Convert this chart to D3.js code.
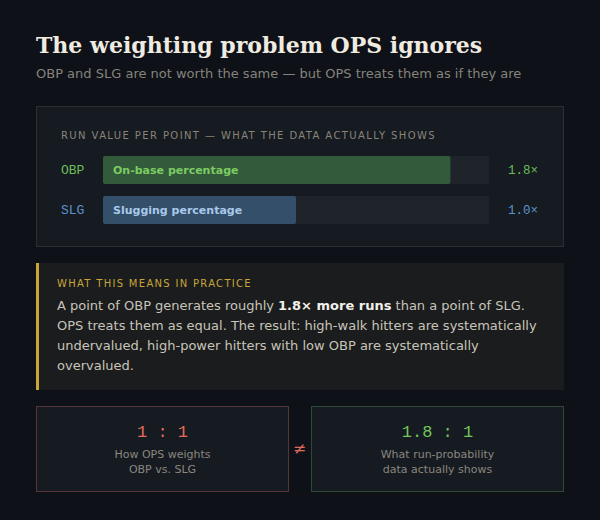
<!DOCTYPE html>
<html><head><meta charset="utf-8">
<script src="https://cdn.jsdelivr.net/npm/d3@7"></script>
<style>
html,body{margin:0;padding:0;background:#0e1117;}
svg{display:block;}
</style></head>
<body>
<script>
const title = "The weighting problem OPS ignores";
const subtitle = "OBP and SLG are not worth the same \u2014 but OPS treats them as if they are";
const panelLabel = "RUN VALUE PER POINT \u2014 WHAT THE DATA ACTUALLY SHOWS";
const metrics = ["OBP", "SLG"];
const metricNames = ["On-base percentage", "Slugging percentage"];
const runValues = [1.8, 1.0];
const valueLabels = ["1.8\u00d7", "1.0\u00d7"];
const scaleMax = 2.0;
const noteTitle = "WHAT THIS MEANS IN PRACTICE";
const noteLines = [
  [["A point of OBP generates roughly ", false], ["1.8\u00d7 more runs", true], [" than a point of SLG.", false]],
  [["OPS treats them as equal. The result: high-walk hitters are systematically", false]],
  [["undervalued, high-power hitters with low OBP are systematically", false]],
  [["overvalued.", false]]
];
const ratios = ["1 : 1", "1.8 : 1"];
const ratioCaptions = [["How OPS weights", "OBP vs. SLG"], ["What run-probability", "data actually shows"]];

const W = 600, H = 520;
const svg = d3.select("body").append("svg").attr("width", W).attr("height", H);
svg.append("rect").attr("width", W).attr("height", H).attr("fill", "#0e1117");

const sans = "'DejaVu Sans', sans-serif";
const mono = "'Liberation Mono', 'Courier New', monospace";

svg.append("text").attr("x", 36).attr("y", 53).text(title)
  .attr("font-family", "'DejaVu Serif', serif").attr("font-weight", "bold")
  .attr("font-size", 22).attr("fill", "#f0ebe0");
svg.append("text").attr("x", 36).attr("y", 78).text(subtitle)
  .attr("font-family", sans).attr("font-size", 13).attr("fill", "#85837c");

// Panel 1
svg.append("rect").attr("x", 36.5).attr("y", 106.5).attr("width", 527).attr("height", 140)
  .attr("fill", "#161b22").attr("stroke", "#2c3035");
svg.append("text").attr("x", 61).attr("y", 139).text(panelLabel)
  .attr("font-family", sans).attr("font-size", 10).attr("letter-spacing", 1.4).attr("fill", "#8a8478");

const y = d3.scaleBand().domain(metrics).range([156, 224]).paddingInner(0.3).paddingOuter(0);
const x = d3.scaleLinear().domain([0, scaleMax]).range([103, 489]);
const fills = ["#335a3b", "#344f6a"];
const txtCol = ["#7ccb63", "#a9c9e9"];
const labCol = ["#6cbd5a", "#5b93c9"];

const rows = svg.selectAll("g.row").data(metrics).join("g").attr("class", "row");
rows.append("rect").attr("x", x(0)).attr("y", d => y(d)).attr("width", x(scaleMax) - x(0))
  .attr("height", y.bandwidth()).attr("rx", 2).attr("fill", "#1f232a");
rows.append("rect").attr("x", x(0)).attr("y", d => y(d)).attr("width", (d, i) => x(runValues[i]) - x(0))
  .attr("height", y.bandwidth()).attr("rx", 2).attr("fill", (d, i) => fills[i]);
rows.append("text").attr("x", 61).attr("y", d => y(d) + y.bandwidth() / 2 + 4).text(d => d)
  .attr("font-family", mono).attr("font-size", 13).attr("fill", (d, i) => labCol[i]);
rows.append("text").attr("x", x(0) + 10).attr("y", d => y(d) + y.bandwidth() / 2 + 4).text((d, i) => metricNames[i])
  .attr("font-family", sans).attr("font-weight", "bold").attr("font-size", 11).attr("fill", (d, i) => txtCol[i]);
rows.append("text").attr("x", 538).attr("y", d => y(d) + y.bandwidth() / 2 + 4).attr("text-anchor", "end")
  .text((d, i) => valueLabels[i])
  .attr("font-family", mono).attr("font-size", 12.5).attr("fill", (d, i) => labCol[i]);

// Panel 2
svg.append("rect").attr("x", 36).attr("y", 263).attr("width", 528).attr("height", 127).attr("fill", "#1a1c1d");
svg.append("rect").attr("x", 36).attr("y", 263).attr("width", 3).attr("height", 127).attr("fill", "#c9a53a");
svg.append("text").attr("x", 57).attr("y", 287).text(noteTitle)
  .attr("font-family", sans).attr("font-size", 10).attr("letter-spacing", 1.3).attr("fill", "#c9a53a");
const para = svg.append("text").attr("font-family", sans).attr("font-size", 13).attr("fill", "#c8c4ba");
noteLines.forEach((line, li) => {
  line.forEach((seg, si) => {
    const t = para.append("tspan").text(seg[0]);
    if (si === 0) t.attr("x", 57).attr("y", 310 + li * 20);
    if (seg[1]) t.attr("font-weight", "bold").attr("fill", "#f4f1ea");
  });
});

// Panel 3
const boxX = [36, 311];
const boxStroke = ["#573536", "#2f4a34"];
const ratioCol = ["#e06b5b", "#72c65c"];
const boxes = svg.selectAll("g.box").data(ratios).join("g").attr("class", "box");
boxes.append("rect").attr("x", (d, i) => boxX[i] + 0.5).attr("y", 406.5).attr("width", 252).attr("height", 85)
  .attr("fill", "#161a21").attr("stroke", (d, i) => boxStroke[i]);
boxes.append("text").attr("x", (d, i) => boxX[i] + 126.5).attr("y", 437).attr("text-anchor", "middle")
  .text(d => d).attr("font-family", mono).attr("font-size", 17).attr("fill", (d, i) => ratioCol[i]);
boxes.each(function (d, i) {
  d3.select(this).selectAll("text.cap").data(ratioCaptions[i]).join("text").attr("class", "cap")
    .attr("x", boxX[i] + 126.5).attr("y", (c, j) => 458 + j * 15).attr("text-anchor", "middle")
    .text(c => c).attr("font-family", sans).attr("font-size", 11).attr("fill", "#8a877f");
});
svg.append("text").attr("x", 299.5).attr("y", 454).attr("text-anchor", "middle").text("\u2260")
  .attr("font-family", sans).attr("font-size", 16).attr("fill", "#e06b5b");
</script>
</body></html>
